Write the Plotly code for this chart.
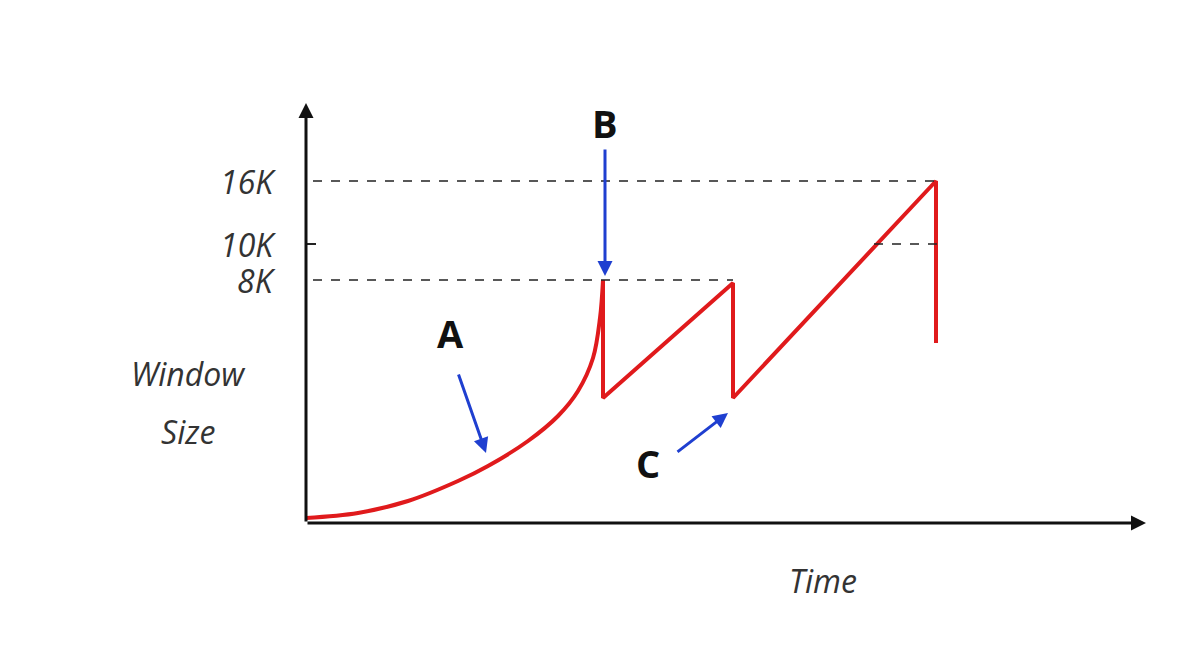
import plotly.graph_objects as go

# schematic units: 1 unit = 1 px in the reference (origin at axes corner)
growth_x = [0, 52, 102, 152, 182, 222, 252, 272, 287, 294, 297]
growth_y = [5, 10, 22, 42, 57, 82, 107, 132, 165, 205, 243]
saw_x = [297, 297, 427, 427, 630, 630]
saw_y = [243, 125, 240, 125, 342, 180]
tick_vals = [342, 279, 243]
tick_labels = ["16K", "10K", "8K"]
dash_ends = [630, 427]   # x end of 16K and 8K guide lines

fig = go.Figure()
fig.add_trace(go.Scatter(x=growth_x, y=growth_y, mode="lines", line_shape="spline",
                         line=dict(color="#e01a1c", width=4), hoverinfo="skip"))
fig.add_trace(go.Scatter(x=saw_x, y=saw_y, mode="lines",
                         line=dict(color="#e01a1c", width=4), hoverinfo="skip"))

shapes = []
for v, xe in zip([tick_vals[0], tick_vals[2]], dash_ends):
    shapes.append(dict(type="line", x0=7, x1=xe, y0=v, y1=v,
                       line=dict(color="#222", width=1.5, dash="dash")))
shapes.append(dict(type="line", x0=0, x1=10, y0=tick_vals[1], y1=tick_vals[1],
                   line=dict(color="#222", width=2)))
shapes.append(dict(type="line", x0=568, x1=632, y0=tick_vals[1], y1=tick_vals[1],
                   line=dict(color="#222", width=1.5, dash="dash")))

ann = []
ann.append(dict(x=840, y=0, ax=0, ay=0, xref="x", yref="y", axref="x", ayref="y",
                showarrow=True, arrowhead=2, arrowsize=1, arrowwidth=3, arrowcolor="#111", text=""))
ann.append(dict(x=0, y=420, ax=0, ay=0, xref="x", yref="y", axref="x", ayref="y",
                showarrow=True, arrowhead=2, arrowsize=1, arrowwidth=3, arrowcolor="#111", text=""))
for v, t in zip(tick_vals, tick_labels):
    ann.append(dict(x=-28, y=v, xref="x", yref="y", text="<i>%s</i>" % t, showarrow=False,
                    xanchor="right", font=dict(size=32, color="#333", family="Open Sans")))
ann.append(dict(x=-118, y=150, xref="x", yref="y", text="<i>Window</i>", showarrow=False,
                font=dict(size=32, color="#333", family="Open Sans")))
ann.append(dict(x=-118, y=92, xref="x", yref="y", text="<i>Size</i>", showarrow=False,
                font=dict(size=32, color="#333", family="Open Sans")))
ann.append(dict(x=517, y=-57, xref="x", yref="y", text="<i>Time</i>", showarrow=False,
                font=dict(size=32, color="#333", family="Open Sans")))
for lbl, (lx, ly) in {"A": (144, 190), "B": (299, 400), "C": (342, 60)}.items():
    ann.append(dict(x=lx, y=ly, xref="x", yref="y", text="<b>%s</b>" % lbl, showarrow=False,
                    font=dict(size=38, color="#111", family="Open Sans")))
for (x0, y0, x1, y1) in [(152, 150, 180, 70), (299, 375, 299, 247), (370, 70, 422, 110)]:
    ann.append(dict(x=x1, y=y1, ax=x0, ay=y0, xref="x", yref="y", axref="x", ayref="y",
                    showarrow=True, arrowhead=2, arrowsize=1, arrowwidth=3,
                    arrowcolor="#1f3fd0", text=""))

fig.update_layout(width=1185, height=672, margin=dict(l=0, r=0, t=0, b=0, autoexpand=False),
                  plot_bgcolor="white", paper_bgcolor="white", showlegend=False,
                  xaxis=dict(range=[-298, 887], visible=False),
                  yaxis=dict(range=[-157, 515], visible=False),
                  shapes=shapes, annotations=ann)
fig.write_html("out.html")
